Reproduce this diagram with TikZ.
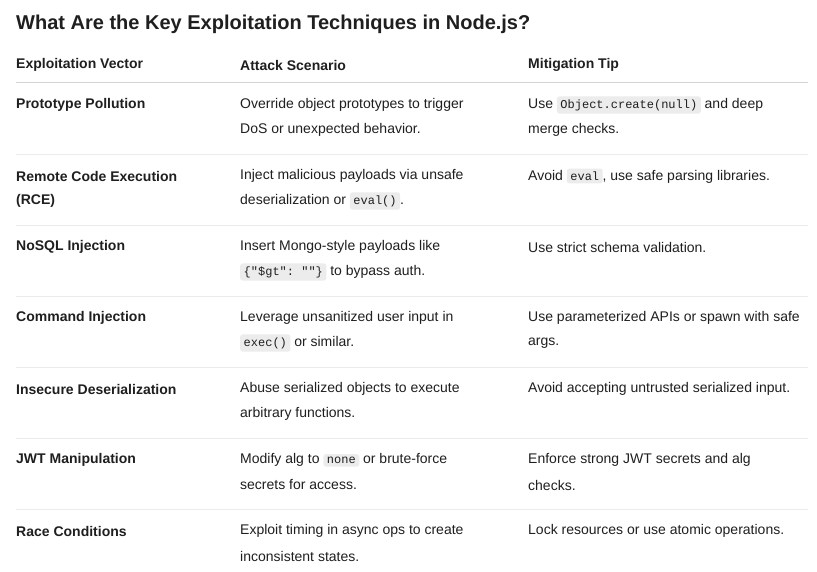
\documentclass[tikz,border=0pt]{standalone}
\usepackage{fontspec}
\setmainfont{Liberation Sans}
\setmonofont{Liberation Mono}
\definecolor{ink}{HTML}{1F1F1F}
\definecolor{codebg}{HTML}{ECECEC}
\definecolor{hline}{HTML}{D4D4D4}
\definecolor{rline}{HTML}{EBEBEB}
\newcommand\cd[1]{\tikz[baseline=(cc.base)]\node(cc)[fill=codebg,rounded corners=2.5pt,inner xsep=3.5pt,inner ysep=3pt,text=ink]{\fontsize{12}{14}\ttfamily #1};}
\tikzset{txt/.style={anchor=west,inner sep=0pt,text=ink,font=\fontsize{14}{16}\selectfont},
hd/.style={txt,font=\fontsize{14}{16}\selectfont\bfseries}}
\begin{document}
\begin{tikzpicture}[x=1pt,y=-1pt]
\useasboundingbox[fill=white] (0,0) rectangle (817,572);
\node[anchor=west,inner sep=0pt,text=ink,font=\fontsize{20}{24}\selectfont\bfseries] (title) at (16,24) {What Are the Key Exploitation Techniques in Node.js?};
\node[hd] (h1) at (16,65) {Exploitation Vector};
\node[hd] (h2) at (240,65) {Attack Scenario};
\node[hd] (h3) at (528,65) {Mitigation Tip};
\draw[hline] (16,82) -- (808,82);
\foreach \y in {154,225,296,367,438,509} \draw[rline] (16,\y) -- (808,\y);
% row 1
\node[hd] (a1) at (16,105) {Prototype Pollution};
\node[txt] (b1) at (240,105) {Override object prototypes to trigger};
\node[txt] (b1b) at (240,130) {DoS or unexpected behavior.};
\node[txt] (c1) at (528,105) {Use \cd{Object.create(null)} and deep};
\node[txt] (c1b) at (528,130) {merge checks.};
% row 2
\node[hd] (a2) at (16,176) {Remote Code Execution};
\node[hd] (a2b) at (16,201) {(RCE)};
\node[txt] (b2) at (240,176) {Inject malicious payloads via unsafe};
\node[txt] (b2b) at (240,201) {deserialization or \cd{eval()}.};
\node[txt] (c2) at (528,176) {Avoid \cd{eval}, use safe parsing libraries.};
% row 3
\node[hd] (a3) at (16,247) {NoSQL Injection};
\node[txt] (b3) at (240,247) {Insert Mongo-style payloads like};
\node[txt] (b3b) at (240,272) {\cd{\{"\$gt": ""\}} to bypass auth.};
\node[txt] (c3) at (528,247) {Use strict schema validation.};
% row 4
\node[hd] (a4) at (16,318) {Command Injection};
\node[txt] (b4) at (240,318) {Leverage unsanitized user input in};
\node[txt] (b4b) at (240,343) {\cd{exec()} or similar.};
\node[txt] (c4) at (528,318) {Use parameterized APIs or spawn with safe};
\node[txt] (c4b) at (528,343) {args.};
% row 5
\node[hd] (a5) at (16,389) {Insecure Deserialization};
\node[txt] (b5) at (240,389) {Abuse serialized objects to execute};
\node[txt] (b5b) at (240,414) {arbitrary functions.};
\node[txt] (c5) at (528,389) {Avoid accepting untrusted serialized input.};
% row 6
\node[hd] (a6) at (16,460) {JWT Manipulation};
\node[txt] (b6) at (240,460) {Modify alg to \cd{none} or brute-force};
\node[txt] (b6b) at (240,485) {secrets for access.};
\node[txt] (c6) at (528,460) {Enforce strong JWT secrets and alg};
\node[txt] (c6b) at (528,485) {checks.};
% row 7
\node[hd] (a7) at (16,531) {Race Conditions};
\node[txt] (b7) at (240,531) {Exploit timing in async ops to create};
\node[txt] (b7b) at (240,556) {inconsistent states.};
\node[txt] (c7) at (528,531) {Lock resources or use atomic operations.};
\end{tikzpicture}
\end{document}
